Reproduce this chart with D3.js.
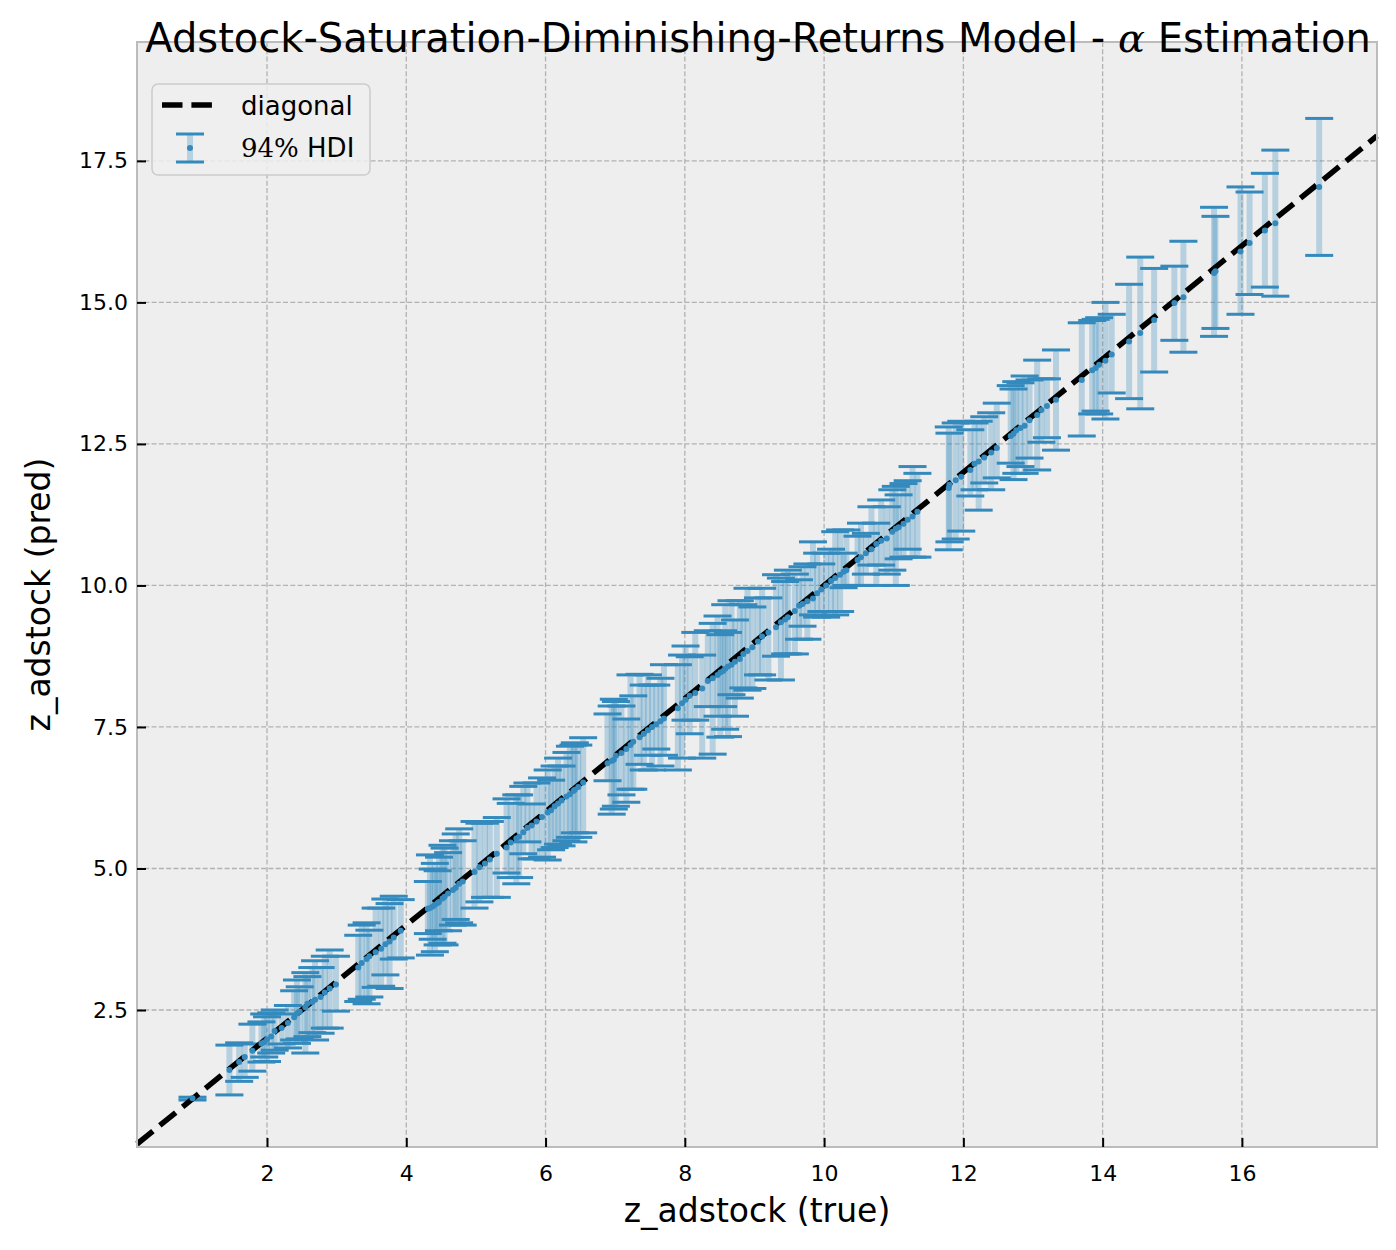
<!DOCTYPE html>
<html><head><meta charset="utf-8">
<script src="https://cdn.jsdelivr.net/npm/d3@7"></script>
<style>body{margin:0;background:#fff} text{font-family:"DejaVu Sans",sans-serif}</style>
</head><body><svg id="chart" width="1396" height="1250"></svg>
<script>
// ---- data ----
const xTrue = [0.93,1.46,1.60,1.68,1.79,1.92,1.96,2.00,2.06,2.11,2.21,2.30,2.39,2.43,2.47,2.55,2.58,2.65,2.69,2.77,2.83,2.90,2.99,
3.31,3.36,3.43,3.47,3.56,3.64,3.70,3.76,3.82,3.92,
4.31,4.34,4.38,4.41,4.45,4.47,4.52,4.55,4.60,4.67,4.71,4.76,4.81,
4.98,5.05,5.13,5.20,5.30,5.44,5.50,
5.58,5.62,5.68,5.74,5.80,5.87,5.95,6.03,6.08,6.13,6.18,6.23,6.30,6.35,6.40,6.42,6.47,6.54,
6.89,6.95,6.98,7.01,7.09,7.16,7.22,7.26,7.35,7.41,7.47,7.53,7.59,7.65,7.70,
7.90,7.96,8.01,8.07,8.15,8.25,8.33,8.40,8.47,8.51,8.55,8.58,8.62,8.67,8.72,8.79,8.84,
8.90,8.97,9.05,9.11,9.20,9.31,9.38,9.44,9.48,
9.58,9.64,9.69,9.76,9.84,9.90,9.96,10.03,10.10,10.16,10.23,10.28,10.32,
10.48,10.53,10.60,10.68,10.75,10.82,10.90,10.98,11.03,11.07,11.14,11.20,11.27,11.34,
11.79,11.80,11.89,11.97,12.10,12.16,12.22,12.30,12.40,12.48,
12.68,12.72,12.76,12.82,12.88,12.95,13.06,13.12,13.20,13.33,
13.70,13.85,13.90,13.95,14.04,14.13,
14.38,14.54,14.74,15.03,15.16,15.60,15.62,15.98,16.11,16.33,16.48,17.11];
const predMean = [0.94,1.44,1.58,1.67,1.78,1.91,1.93,1.98,2.03,2.13,2.18,2.27,2.37,2.44,2.47,2.55,2.61,2.64,2.68,2.73,2.81,2.88,2.95,
3.25,3.33,3.40,3.45,3.52,3.58,3.66,3.71,3.78,3.90,
4.29,4.30,4.33,4.36,4.39,4.41,4.47,4.50,4.56,4.62,4.66,4.73,4.77,
4.94,5.02,5.09,5.16,5.26,5.37,5.46,
5.53,5.56,5.64,5.72,5.76,5.83,5.91,5.99,6.03,6.10,6.15,6.20,6.27,6.31,6.37,6.39,6.44,6.52,
6.86,6.90,6.92,6.99,7.04,7.11,7.18,7.24,7.32,7.38,7.44,7.50,7.55,7.60,7.65,
7.83,7.92,7.98,8.05,8.10,8.18,8.31,8.36,8.42,8.46,8.49,8.53,8.57,8.60,8.65,8.70,8.79,
8.84,8.91,9.01,9.10,9.17,9.26,9.35,9.40,9.44,
9.55,9.64,9.67,9.72,9.77,9.86,9.93,10.00,10.08,10.13,10.19,10.24,10.27,
10.45,10.50,10.57,10.64,10.73,10.79,10.83,10.95,11.00,11.03,11.09,11.16,11.22,11.30,
11.72,11.78,11.86,11.92,12.04,12.15,12.19,12.26,12.35,12.43,
12.64,12.68,12.74,12.78,12.82,12.92,13.01,13.10,13.17,13.28,
13.63,13.80,13.84,13.90,13.97,14.08,
14.31,14.46,14.69,14.99,15.09,15.52,15.55,15.90,16.05,16.27,16.40,17.04];
const hdiLow = [0.91,1.00,1.24,1.31,1.42,1.58,1.67,1.59,1.74,1.79,1.90,1.83,1.97,1.91,1.99,1.74,2.03,2.10,1.97,2.09,2.18,2.18,2.48,
2.65,2.69,2.61,2.73,2.90,2.92,3.12,2.88,3.40,3.42,
3.85,3.47,3.75,3.53,3.65,3.90,3.68,3.65,3.90,4.00,4.10,4.04,4.00,
4.30,4.41,4.49,4.49,4.49,4.92,4.84,
4.73,4.84,5.26,5.47,5.17,5.17,5.20,5.15,5.33,5.37,5.43,5.40,5.49,5.55,5.47,5.63,5.55,5.63,
6.55,5.96,6.05,6.10,6.30,6.17,6.40,6.40,6.84,6.74,7.00,6.74,7.11,6.81,7.00,
6.74,6.95,7.62,7.38,7.62,6.95,7.86,7.02,7.69,7.32,7.86,7.46,7.33,8.07,7.69,8.01,8.19,
8.15,8.18,8.42,8.42,8.33,8.75,8.33,8.79,8.79,
8.79,9.05,9.28,9.05,9.48,9.44,9.54,9.44,9.54,9.48,9.54,9.96,10.00,
10.00,10.00,10.20,10.36,10.00,10.36,10.20,10.27,10.00,10.47,10.50,10.64,10.50,10.50,
10.63,10.77,10.82,10.96,11.58,11.69,11.33,11.81,11.69,11.90,
12.16,11.87,11.98,12.10,11.98,12.25,12.04,12.53,12.61,12.39,
12.64,13.03,13.08,13.03,12.94,13.40,
13.30,13.12,13.77,14.33,14.12,14.40,14.54,14.79,15.14,15.27,15.11,15.83];
const hdiHigh = [0.96,1.88,1.92,1.90,2.25,2.29,2.43,2.38,2.45,2.50,2.43,2.58,2.84,3.03,2.91,3.16,3.09,3.25,3.37,3.25,3.45,3.56,3.45,
3.82,4.00,4.04,3.91,4.30,4.30,4.46,4.38,4.51,4.45,
4.77,5.24,4.99,5.09,4.96,5.20,5.41,5.36,5.28,5.49,5.61,5.70,5.49,
5.83,5.80,5.80,5.83,5.90,6.23,6.15,
6.30,6.30,6.45,6.51,6.14,6.51,6.60,6.74,6.56,6.81,6.95,6.81,7.05,7.16,7.18,7.22,7.18,7.31,
7.73,7.87,7.99,7.95,7.87,7.64,8.42,8.05,8.43,8.24,8.42,8.24,8.24,8.36,8.60,
8.60,8.77,8.93,8.74,9.17,8.77,9.20,9.33,9.46,9.13,9.20,9.66,9.17,9.73,9.39,9.73,9.66,
9.95,9.62,9.78,9.95,9.78,10.19,10.13,10.07,10.27,
10.20,10.10,10.33,10.38,10.77,10.57,10.38,10.57,10.64,10.95,10.98,10.57,10.98,
10.87,11.10,10.92,11.39,11.10,11.51,11.39,11.69,11.75,11.60,11.80,11.85,12.10,11.98,
12.80,12.69,12.87,12.90,12.75,12.87,12.90,12.98,13.05,13.22,
13.53,13.47,13.60,13.58,13.70,13.63,13.98,13.65,13.65,14.16,
14.64,14.68,14.70,14.73,15.00,14.79,
15.32,15.80,15.60,15.64,16.08,16.68,16.52,17.04,16.95,17.28,17.69,18.25];
const xTicks = [2,4,6,8,10,12,14,16];
const yTicks = [2.5,5.0,7.5,10.0,12.5,15.0,17.5];
const xDomain = [0.133, 17.94];
const yDomain = [0.08, 19.6];

// ---- layout ----
const L = 137, R = 1377, T = 42, B = 1147;
const C0 = "#348ABD";
const svg = d3.select("#chart");
const x = d3.scaleLinear().domain(xDomain).range([L, R]);
const y = d3.scaleLinear().domain(yDomain).range([B, T]);

svg.append("rect").attr("x", L).attr("y", T).attr("width", R - L).attr("height", B - T).attr("fill", "#eeeeee");

// grid
const grid = svg.append("g").attr("stroke", "#b2b2b2").attr("stroke-width", 1.3).attr("stroke-dasharray", "5,2.3");
grid.selectAll(".gx").data(xTicks).join("line").attr("x1", d => x(d)).attr("x2", d => x(d)).attr("y1", T).attr("y2", B);
grid.selectAll(".gy").data(yTicks).join("line").attr("y1", d => y(d)).attr("y2", d => y(d)).attr("x1", L).attr("x2", R);

const idx = d3.range(xTrue.length);
const plot = svg.append("g");
// error bars
plot.append("g").selectAll("line").data(idx).join("line")
  .attr("x1", i => x(xTrue[i])).attr("x2", i => x(xTrue[i]))
  .attr("y1", i => y(hdiLow[i])).attr("y2", i => y(hdiHigh[i]))
  .attr("stroke", C0).attr("stroke-opacity", 0.3).attr("stroke-width", 6);
// caps
const caps = plot.append("g").attr("stroke", C0).attr("stroke-width", 3);
caps.selectAll(".lo").data(idx).join("line")
  .attr("x1", i => x(xTrue[i]) - 14).attr("x2", i => x(xTrue[i]) + 14)
  .attr("y1", i => y(hdiLow[i])).attr("y2", i => y(hdiLow[i]));
caps.selectAll(".hi").data(idx).join("line")
  .attr("x1", i => x(xTrue[i]) - 14).attr("x2", i => x(xTrue[i]) + 14)
  .attr("y1", i => y(hdiHigh[i])).attr("y2", i => y(hdiHigh[i]));
// diagonal
plot.append("line")
  .attr("x1", x(xDomain[0])).attr("y1", y(xDomain[0]))
  .attr("x2", x(xDomain[1])).attr("y2", y(xDomain[1]))
  .attr("stroke", "#000").attr("stroke-width", 5.5).attr("stroke-dasharray", "20.5,8.9");
// points
plot.append("g").selectAll("circle").data(idx).join("circle")
  .attr("cx", i => x(xTrue[i])).attr("cy", i => y(predMean[i])).attr("r", 3).attr("fill", C0);

// frame
svg.append("rect").attr("x", L).attr("y", T).attr("width", R - L).attr("height", B - T)
  .attr("fill", "none").attr("stroke", "#bcbcbc").attr("stroke-width", 2);

// axes
const xAxis = d3.axisBottom(x).tickValues(xTicks).tickFormat(d3.format("d")).tickSizeInner(-9).tickSizeOuter(0).tickPadding(18);
const gx = svg.append("g").attr("transform", `translate(0,${B})`).call(xAxis);
const yAxis = d3.axisLeft(y).tickValues(yTicks).tickFormat(d3.format(".1f")).tickSizeInner(-9).tickSizeOuter(0).tickPadding(9);
const gy = svg.append("g").attr("transform", `translate(${L},0)`).call(yAxis);
[gx, gy].forEach(g => {
  g.select(".domain").remove();
  g.selectAll(".tick line").attr("stroke", "#000").attr("stroke-width", 2);
  g.selectAll(".tick text").attr("fill", "#000").style("font-size", "22px").style("font-family", "DejaVu Sans");
});

// labels
svg.append("text").attr("x", (L + R) / 2).attr("y", 1222).attr("text-anchor", "middle")
  .style("font-size", "33px").text("z_adstock (true)");
svg.append("text").attr("transform", `translate(50,${(T + B) / 2}) rotate(-90)`).attr("text-anchor", "middle")
  .style("font-size", "33px").text("z_adstock (pred)");
const title = svg.append("text").attr("x", (L + R) / 2 + 1).attr("y", 52).attr("text-anchor", "middle").style("font-size", "40px");
title.append("tspan").text("Adstock-Saturation-Diminishing-Returns Model - ");
title.append("tspan").style("font-family", "'DejaVu Serif',serif").style("font-style", "italic").text("α");
title.append("tspan").text(" Estimation");

// legend
const lg = svg.append("g");
lg.append("rect").attr("x", 152).attr("y", 84).attr("width", 218).attr("height", 91).attr("rx", 6)
  .attr("fill", "#efefef").attr("fill-opacity", 0.85).attr("stroke", "#cccccc").attr("stroke-width", 1.5);
lg.append("line").attr("x1", 162).attr("x2", 218).attr("y1", 105).attr("y2", 105)
  .attr("stroke", "#000").attr("stroke-width", 5.5).attr("stroke-dasharray", "20.5,8.9");
lg.append("text").attr("x", 241).attr("y", 115).style("font-size", "26px").text("diagonal");
lg.append("line").attr("x1", 190).attr("x2", 190).attr("y1", 134).attr("y2", 162)
  .attr("stroke", C0).attr("stroke-opacity", 0.3).attr("stroke-width", 6);
lg.append("line").attr("x1", 176).attr("x2", 204).attr("y1", 134).attr("y2", 134).attr("stroke", C0).attr("stroke-width", 3);
lg.append("line").attr("x1", 176).attr("x2", 204).attr("y1", 162).attr("y2", 162).attr("stroke", C0).attr("stroke-width", 3);
lg.append("circle").attr("cx", 190).attr("cy", 148).attr("r", 3).attr("fill", C0);
const t2 = lg.append("text").attr("x", 241).attr("y", 157).style("font-size", "26px");
t2.append("tspan").style("font-family", "'DejaVu Serif',serif").text("94%");
t2.append("tspan").text(" HDI");
</script>
</body></html>
